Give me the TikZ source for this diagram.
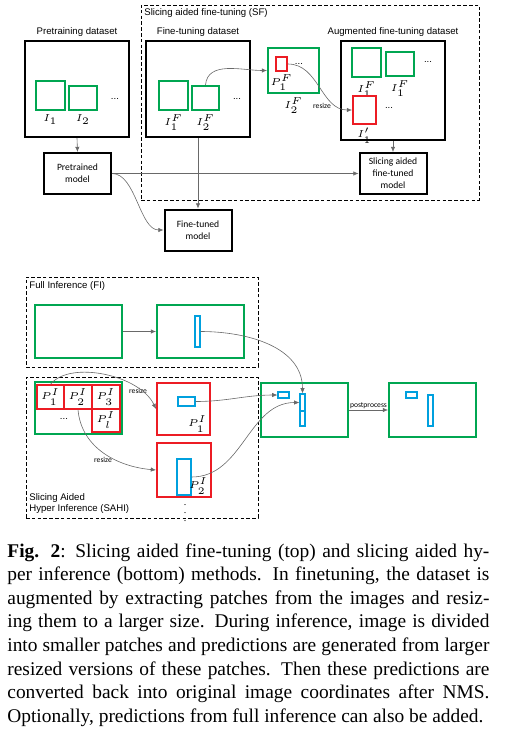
\RequirePackage{fix-cm}
\documentclass[tikz,border=0pt]{standalone}
\usepackage{fontspec}
\setmainfont{Liberation Serif}
\setsansfont{Liberation Sans}
\newfontfamily\calfont{Carlito}
\usetikzlibrary{arrows.meta,fit,positioning}

\definecolor{imggreen}{RGB}{0,166,81}
\definecolor{imgred}{RGB}{236,28,36}
\definecolor{imgblue}{RGB}{0,160,222}
\definecolor{conngray}{RGB}{105,105,105}

\begin{document}
\begin{tikzpicture}[x=0.5pt, y=-0.5pt]
  \useasboundingbox (0,0) rectangle (530,735);
  \tikzset{
    region/.style={draw, line width=0.5pt, dash pattern=on 1.8pt off 1.1pt, inner sep=0pt},
    setbox/.style={draw, line width=1pt, inner sep=0pt},
    modelbox/.style={draw, line width=1pt, minimum width=33.5pt, minimum height=20.5pt,
      align=center, inner sep=0pt, font=\calfont\fontsize{4.8}{6}\selectfont},
    gimg/.style={draw=imggreen, line width=1pt, inner sep=0pt},
    rimg/.style={draw=imgred, line width=1pt, inner sep=0pt},
    rpatch/.style={draw=imgred, line width=0.7pt, inner sep=0pt},
    pred/.style={draw=imgblue, line width=0.6pt, inner sep=0pt},
    lab/.style={font=\sffamily\fontsize{4.8}{5.8}\selectfont, inner sep=0.5pt},
    mlab/.style={font=\fontsize{5}{6}\selectfont, inner sep=0.5pt},
    tinylab/.style={font=\calfont\fontsize{3.8}{4.5}\selectfont, inner sep=0.5pt},
    conn/.style={draw=conngray, line width=0.3pt, -{Latex[length=2.6pt,width=2.2pt]}},
    caption/.style={font=\fontsize{9.7}{11.8}\selectfont, align=left, inner sep=0pt}
  }

  % --- slicing aided fine-tuning (top)
  \node[region, fit={(141,5) (479,200)}] (sf) {};
  \node[lab, anchor=north west] (sflab) at (143,7) {Slicing aided fine-tuning (SF)};

  \node[setbox, fit={(25,41) (129,137)}] (pre) {};
  \node[lab, above=1pt of pre] (prelab) {Pretraining dataset};
  \node[gimg, fit={(36,81) (65,110)}] (i1) {};
  \node[gimg, fit={(69,86) (97,110)}] (i2) {};
  \node[mlab, below=1pt of i1] (i1lab) {$I_1$};
  \node[mlab, below=1pt of i2] (i2lab) {$I_2$};
  \node[lab] (predots) at (115,99) {...};

  \node[setbox, fit={(146,41) (250,137)}] (ft) {};
  \node[lab, above=1pt of ft] (ftlab) {Fine-tuning dataset};
  \node[gimg, fit={(159,81) (188,110)}] (i1f) {};
  \node[gimg, fit={(192,86) (219,110)}] (i2f) {};
  \node[mlab, below=1pt of i1f] (i1flab) {$I_1^F$};
  \node[mlab, below=1pt of i2f] (i2flab) {$I_2^F$};
  \node[lab] (ftdots) at (237,99) {...};

  \node[gimg, fit={(268,48) (319,93)}] (i2fbig) {};
  \node[rpatch, line width=0.9pt, fit={(276,57) (287,71)}] (p1f) {};
  \node[mlab, below=0.5pt of p1f] (p1flab) {$P_1^F$};
  \node[lab] (bigdots) at (299,64) {...};
  \node[mlab, below=1pt of i2fbig] (i2fbiglab) {$I_2^F$};

  \node[setbox, fit={(341,41) (445,140)}] (aug) {};
  \node[lab, above=1pt of aug] (auglab) {Augmented fine-tuning dataset};
  \node[gimg, fit={(352,48) (381,77)}] (a1) {};
  \node[gimg, fit={(386,52) (414,76)}] (a2) {};
  \node[mlab, below=1pt of a1] (a1lab) {$I_1^F$};
  \node[mlab, below=1pt of a2] (a2lab) {$I_1^F$};
  \node[lab] (augdots) at (428,62) {...};
  \node[rimg, fit={(353,96) (376,124)}] (a3) {};
  \node[mlab, below=1pt of a3] (a3lab) {$I_1'$};
  \node[lab] (augdots2) at (389,108) {...};
  \node[tinylab] (rs0) at (322,106) {resize};

  \node[modelbox] (ptm) at (77.5,173.5) {Pretrained\\model};
  \node[modelbox] (saft) at (393,173.5) {Slicing aided\\fine-tuned\\model};
  \node[modelbox] (ftm) at (198,230) {Fine-tuned\\model};

  \draw[conn] (i2f.north) to[out=85, in=180] (i2fbig.west);
  \draw[conn] (p1f.east) to[out=0, in=180] (a3.west);
  \draw[conn] (pre.south) -- (ptm.north);
  \draw[conn] (ptm.east) -- (saft.west);
  \draw[conn] (ptm.east) to[out=0, in=180, looseness=0.8] (ftm.west);
  \draw[conn] (ft.south) -- (ftm.north);
  \draw[conn] (aug.south) -- (saft.north);

  % --- full inference (bottom)
  \node[region, fit={(26,277) (258,367)}] (fi) {};
  \node[lab, anchor=north west] (filab) at (28,280) {Full Inference (FI)};
  \node[gimg, fit={(35,305) (122,358)}] (fi1) {};
  \node[gimg, fit={(157,305) (244,358)}] (fi2) {};
  \node[pred, fit={(195,316) (200,347)}] (fibar) {};
  \draw[conn] (fi1.east) -- (fi2.west);

  % --- slicing aided hyper inference
  \node[region, fit={(26,377) (258,518)}] (sahi) {};
  \node[lab, anchor=south west, align=left] (sahilab) at (28,515) {Slicing Aided\\Hyper Inference (SAHI)};

  \node[gimg, fit={(35,382) (122,434)}] (img) {};
  \node[rpatch, fit={(37,385) (64,409)}] (p1) {};
  \node[rpatch, fit={(64,385) (92,409)}] (p2) {};
  \node[rpatch, fit={(92,385) (120,409)}] (p3) {};
  \node[rpatch, fit={(92,409) (120,432)}] (pl) {};
  \node[mlab] (p1lab) at (p1) {$P_1^I$};
  \node[mlab] (p2lab) at (p2) {$P_2^I$};
  \node[mlab] (p3lab) at (p3) {$P_3^I$};
  \node[mlab] (pllab) at (pl) {$P_l^I$};
  \node[lab] (imgdots) at (64,419) {...};

  \node[rimg, fit={(157,383) (210,435)}] (bp1) {};
  \node[pred, fit={(178,397) (195,406)}] (b1) {};
  \node[mlab, anchor=south east] (bp1lab) at ([shift={(-3,-2)}]bp1.south east) {$P_1^I$};
  \node[rimg, fit={(157,443) (211,497)}] (bp2) {};
  \node[pred, fit={(177,459) (191,495)}] (b2) {};
  \node[mlab, anchor=south east] (bp2lab) at ([shift={(-3,-2)}]bp2.south east) {$P_2^I$};
  \node[mlab] (bpdots) at (185,507) {$\vdots$};

  \node[tinylab] (rs1) at (138,391) {resize};
  \node[tinylab] (rs2) at (103,460) {resize};

  \draw[conn] (p1.north) .. controls (70,360) and (140,375) .. (bp1.west);
  \draw[conn] (p2.south) to[out=-85, in=175] (bp2.west);

  % --- merged predictions and postprocess
  \node[gimg, fit={(261,383) (348,437)}] (mg) {};
  \node[pred, fit={(278,392) (289,398)}] (mgs) {};
  \node[pred, fit={(300,394) (305,411)}] (mgt) {};
  \node[pred, fit={(300,411) (305,426)}] (mgb) {};

  \node[gimg, fit={(389,383) (476,437)}] (fin) {};
  \node[pred, fit={(406,392) (417,398)}] (fins) {};
  \node[pred, fit={(428,395) (433,426)}] (fint) {};

  \draw[conn] (fibar.east) to[out=0, in=90] (mgt.north);
  \draw[conn] (b1.east) to[out=0, in=180] (mgs.west);
  \draw[conn] (b2.east) to[out=0, in=180] (mgt.west);
  \draw[conn] (mg.east) -- node[tinylab, above] (pp) {postprocess} (fin.west);

  % --- caption
  \node[caption, anchor=north west] (cap) at (7,543) {%
    \makebox[241pt][s]{\textbf{Fig. 2}: Slicing aided fine-tuning (top) and slicing aided hy-}\\
    \makebox[241pt][s]{per inference (bottom) methods. In finetuning, the dataset is}\\
    \makebox[241pt][s]{augmented by extracting patches from the images and resiz-}\\
    \makebox[241pt][s]{ing them to a larger size. During inference, image is divided}\\
    \makebox[241pt][s]{into smaller patches and predictions are generated from larger}\\
    \makebox[241pt][s]{resized versions of these patches. Then these predictions are}\\
    \makebox[241pt][s]{converted back into original image coordinates after NMS.}\\
    Optionally, predictions from full inference can also be added.};

\end{tikzpicture}
\end{document}
